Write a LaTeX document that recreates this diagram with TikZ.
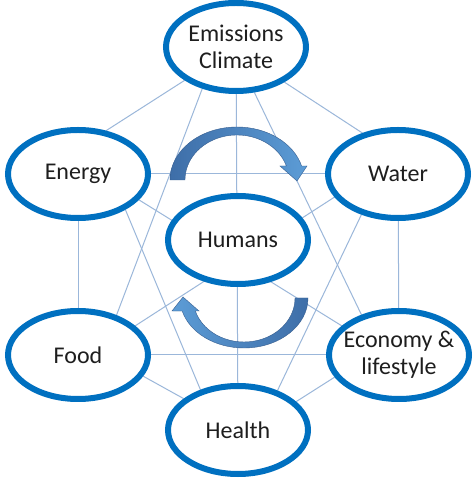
\documentclass[tikz,border=0pt]{standalone}
\usepackage{fontspec}
\setmainfont{Carlito}
\usetikzlibrary{shapes.geometric,backgrounds}
\definecolor{ringblue}{RGB}{0,112,192}
\definecolor{linkblue}{RGB}{155,183,218}
\definecolor{arrdark}{RGB}{62,110,168}
\definecolor{arrlight}{RGB}{92,156,214}
\definecolor{txt}{RGB}{30,30,30}
\begin{document}
\begin{tikzpicture}[x=1pt,y=1pt,
  topic/.style={ellipse, draw=ringblue, line width=6pt, fill=white,
    minimum width=140pt, minimum height=88pt, inner xsep=-14pt, inner ysep=0pt,
    align=center, font=\fontsize{24}{27}\selectfont, text=txt},
  link/.style={draw=linkblue, line width=1pt},
  cyc/.style={draw=arrdark!85!black, line width=0.4pt}]
\useasboundingbox (0,0) rectangle (474,479);

\node[topic] (emis)   at (236,432) {Emissions\\Climate};
\node[topic] (energy) at (78,305)  {Energy};
\node[topic] (water)  at (398,305) {Water};
\node[topic] (humans) at (238,239) {Humans};
\node[topic] (food)   at (78,124)  {Food};
\node[topic] (econ)   at (399,124) {Economy \&\\lifestyle};
\node[topic] (health) at (238,49)  {Health};

\begin{pgfonlayer}{background}
\fill[white] (0,0) rectangle (474,479);
\path[link] (emis.-147) -- (energy.57);
\path[link] (emis.-129) -- (food.46);
\path[link] (emis) -- (health);
\path[link] (emis.-68) -- (econ.133);
\path[link] (emis.-36) -- (water.131);
\path[link] (energy) -- (water);
\path[link] (energy) -- (food);
\path[link] (energy.-23) -- (econ.153);
\path[link] (energy.-37) -- (health.133);
\path[link] (water.-160) -- (food.27);
\path[link] (water.-132) -- (health.45);
\path[link] (water) -- (econ);
\path[link] (food) -- (econ);
\path[link] (food.-18) -- (health.150);
\path[link] (econ.-161) -- (health.26);
\end{pgfonlayer}

% top curved arrow (left to right)
\path[cyc, left color=arrdark, right color=arrlight]
  (170,299) arc[start angle=180, end angle=15.3, x radius=67pt, y radius=53pt]
  -- (307,313) -- (297,298) -- (280,313) -- (286.4,313)
  arc[start angle=18.1, end angle=180, x radius=52pt, y radius=45pt] -- cycle;

% bottom curved arrow (right to left)
\path[cyc, left color=arrlight, right color=arrdark]
  (308,181) arc[start angle=0, end angle=-164.9, x radius=64pt, y radius=50pt]
  -- (172,168) -- (183,182) -- (199,168) -- (195.3,168)
  arc[start angle=-162.8, end angle=0, x radius=51pt, y radius=44pt] -- cycle;
\end{tikzpicture}
\end{document}
